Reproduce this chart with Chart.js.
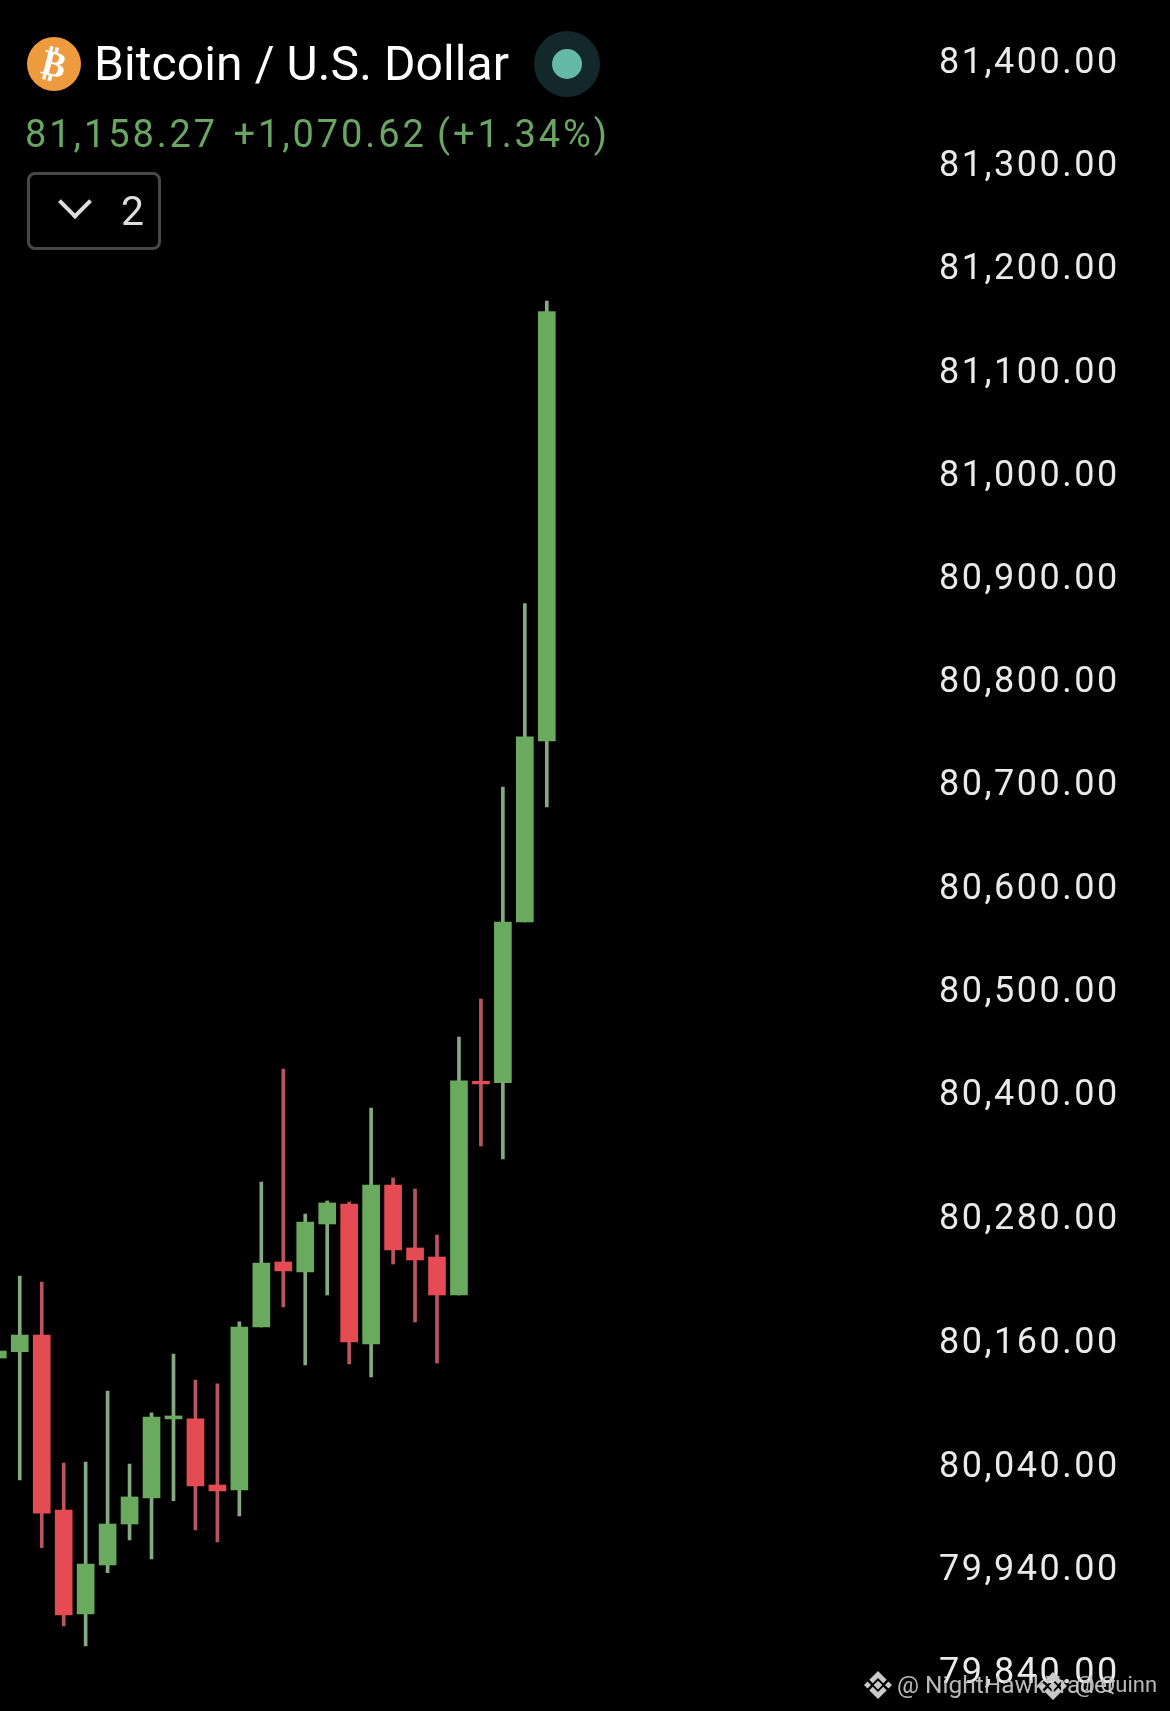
<!DOCTYPE html>
<html>
<head>
<meta charset="utf-8">
<title>Bitcoin / U.S. Dollar</title>
<script src="https://cdn.jsdelivr.net/npm/chart.js@4/dist/chart.umd.min.js"></script>
<style>
  html, body { margin: 0; padding: 0; background: #000; }
  #wrap { position: relative; width: 1170px; height: 1711px; overflow: hidden; font-family: Roboto, sans-serif; }
  #wrap canvas { position: absolute; left: 0; top: 0; }
  .abs { position: absolute; white-space: nowrap; }
  #coin { left: 27px; top: 37px; width: 54px; height: 54px; border-radius: 50%; background: #ee9a3f; color: #fff; font: bold 36px/54px "DejaVu Sans"; text-align: center; }
  #coin span { display: inline-block; transform: rotate(14deg); }
  #title { left: 94px; top: 36px; color: #fff; font-size: 48px; line-height: 56px; letter-spacing: 0.1px; }
  #status { left: 534px; top: 31px; width: 66px; height: 66px; border-radius: 50%; background: #12282a; }
  #status i { position: absolute; left: 18px; top: 18px; width: 30px; height: 30px; border-radius: 50%; background: #66b9a8; }
  #quote { left: 25px; top: 111px; color: #6aa563; font-size: 38px; line-height: 46px; letter-spacing: 2.9px; word-spacing: -2px; }
  #quote span { margin-right: 5px; }
  #legendBox { left: 27px; top: 172px; width: 134px; height: 78px; box-sizing: border-box; border: 3px solid #484848; border-radius: 8px; }
  #chev { position: absolute; left: 33px; top: 15px; width: 24px; height: 24px; box-sizing: border-box; border-right: 4px solid #ddd; border-bottom: 4px solid #ddd; transform: rotate(45deg); }
  #count { position: absolute; left: 91px; top: 13px; color: #ddd; font-size: 41px; line-height: 46px; }
  .mark { color: #c9c9c9; font-size: 24.5px; line-height: 30px; opacity: .92; }
  .logo { width: 28px; height: 28px; fill: #c9c9c9; }
</style>
</head>
<body>
<div id="wrap">
  <canvas id="chart" width="1170" height="1711"></canvas>
  <div id="coin" class="abs"><span>₿</span></div>
  <div id="title" class="abs">Bitcoin / U.S. Dollar</div>
  <div id="status" class="abs"><i></i></div>
  <div id="quote" class="abs"><span>81,158.27</span> +1,070.62 (+1.34%)</div>
  <div id="legendBox" class="abs"><div id="chev"></div><div id="count">2</div></div>
  <svg class="abs logo" style="left:864px;top:1671px" viewBox="0 0 32 32"><path d="M16 0L26 10 22 14 16 8 10 14 6 10ZM16 32L26 22 22 18 16 24 10 18 6 22ZM0 16L4 12 8 16 4 20ZM32 16L28 12 24 16 28 20ZM16 11L21 16 16 21 11 16Z"/></svg>
  <div class="abs mark" style="left:897px;top:1670px">@ NightHawkTrader</div>
  <svg class="abs logo" style="left:1039px;top:1672px" viewBox="0 0 32 32"><path d="M16 0L26 10 22 14 16 8 10 14 6 10ZM16 32L26 22 22 18 16 24 10 18 6 22ZM0 16L4 12 8 16 4 20ZM32 16L28 12 24 16 28 20ZM16 11L21 16 16 21 11 16Z"/></svg>
  <div class="abs mark" style="left:1075px;top:1670px;font-size:22px">@ Quinn</div>
</div>
<script>
// candle values, oldest first
const candleIndex = [0, 1, 2, 3, 4, 5, 6, 7, 8, 9, 10, 11, 12, 13, 14, 15, 16, 17, 18, 19, 20, 21, 22, 23, 24, 25];
const opens = [80144.2, 80150.3, 80166.5, 79997.0, 79896.2, 79943.7, 79983.4, 80008.6, 80085.2, 80085.2, 80021.2, 80016.4, 80174.3, 80237.3, 80227.6, 80274.1, 80293.5, 80157.8, 80311.9, 80250.9, 80242.1, 80205.3, 80412.4, 80411.0, 80566.7, 80742.1];
const closes = [80151.0, 80166.5, 79994.0, 79895.2, 79944.6, 79983.4, 80009.6, 80087.1, 80088.1, 80020.2, 80015.4, 80174.3, 80236.3, 80228.6, 80276.0, 80294.5, 80159.8, 80311.9, 80248.9, 80239.2, 80205.3, 80412.7, 80409.8, 80566.7, 80746.0, 81158.27];
const highs = [80151.0, 80223.7, 80217.9, 80042.5, 80043.5, 80112.3, 80041.5, 80091.0, 80148.1, 80122.9, 80119.1, 80179.2, 80314.8, 80424.3, 80283.8, 80296.4, 80295.4, 80386.5, 80318.7, 80308.0, 80263.4, 80455.3, 80492.1, 80697.5, 80875.3, 81168.4];
const lows = [80144.2, 80026.0, 79960.4, 79884.6, 79865.2, 79936.2, 79967.9, 79949.5, 80006.0, 79977.6, 79966.0, 79991.2, 80174.3, 80193.7, 80137.5, 80205.3, 80138.5, 80125.9, 80235.3, 80179.1, 80139.4, 80205.3, 80349.7, 80337.1, 80566.7, 80678.2];
const tickValues = [79840, 79940, 80040, 80160, 80280, 80400, 80500, 80600, 80700, 80800, 80900, 81000, 81100, 81200, 81300, 81400];

const bodyColors = opens.map((o, i) => closes[i] >= o ? '#6aaa5e' : '#e54b53');
const wickColors = opens.map((o, i) => closes[i] >= o ? '#86a883' : '#b9555f');

// keeps the wide spacing of the price labels
const letterSpacing = {
  id: 'letterSpacing',
  beforeDraw(chart) {
    chart.ctx.letterSpacing = '2.5px';
  },
};

new Chart(document.getElementById('chart'), {
  type: 'bar',
  data: {
    labels: candleIndex,
    datasets: [
      {
        label: 'wick',
        data: candleIndex.map(i => ({ x: i, y: [lows[i], highs[i]] })),
        backgroundColor: wickColors,
        barThickness: 3,
        grouped: false,
        order: 2,
      },
      {
        label: 'body',
        data: candleIndex.map(i => ({ x: i, y: [opens[i], closes[i]] })),
        backgroundColor: bodyColors,
        barThickness: 17,
        grouped: false,
        order: 1,
      },
    ],
  },
  plugins: [letterSpacing],
  options: {
    responsive: false,
    animation: false,
    devicePixelRatio: 1,
    layout: { padding: 0 },
    plugins: { legend: { display: false }, tooltip: { enabled: false } },
    scales: {
      x: {
        type: 'linear',
        offset: false,
        min: 0.1,
        max: 42.45,
        display: false,
        grid: { display: false },
      },
      y: {
        type: 'linear',
        position: 'right',
        min: 79802.2,
        max: 81460.07,
        afterBuildTicks: axis => { axis.ticks = tickValues.map(v => ({ value: v })); },
        afterFit: axis => {
          axis.width = 240;
          axis.paddingTop = 0;
          axis.paddingBottom = 0;
        },
        grid: { display: false, drawTicks: false },
        border: { display: false },
        ticks: {
          color: '#eaeaea',
          padding: 9,
          labelOffset: 2,
          font: { family: 'Roboto', size: 36 },
          autoSkip: false,
          callback: v => v.toLocaleString('en-US', { minimumFractionDigits: 2 }),
        },
      },
    },
  },
});
</script>
</body>
</html>
